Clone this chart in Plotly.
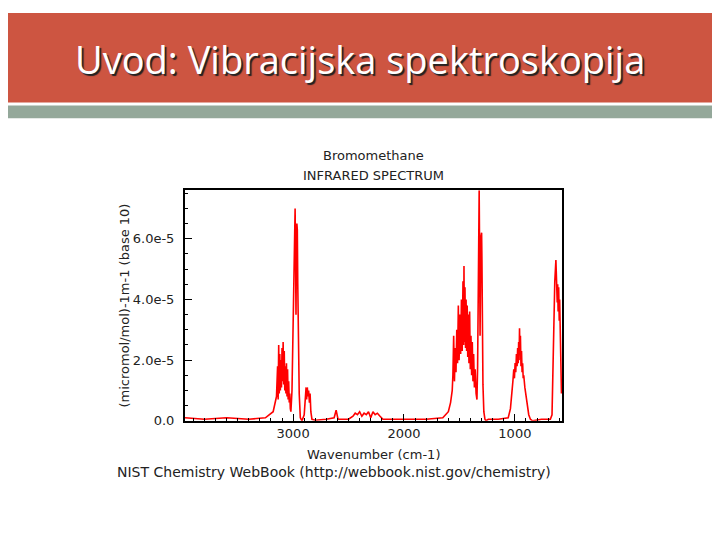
import plotly.graph_objects as go

# Bromomethane IR spectrum (absorbance in 1e-5 units)
wavenumber = [3975, 3800, 3600, 3400, 3250, 3180, 3150, 3140, 3135, 3130, 3125, 3120, 3115, 3110,
              3105, 3100, 3095, 3090, 3085, 3080, 3075, 3070, 3065, 3060, 3055, 3050, 3045, 3040,
              3035, 3030, 3025, 3020, 3010, 3000, 2995, 2990, 2985, 2982, 2978, 2974, 2970, 2966,
              2962, 2958, 2952, 2945, 2935, 2920, 2900, 2890, 2883, 2878, 2872, 2866, 2860, 2853,
              2847, 2840, 2830, 2800, 2700, 2630, 2612, 2595, 2500, 2460, 2440, 2420, 2400, 2380,
              2360, 2340, 2320, 2300, 2280, 2260, 2240, 2216, 2190, 2000, 1800, 1650, 1600, 1580,
              1565, 1559, 1552, 1545, 1538, 1531, 1524, 1517, 1510, 1503, 1496, 1489, 1482, 1475,
              1468, 1462, 1459, 1455, 1450, 1445, 1440, 1435, 1430, 1425, 1420, 1414, 1408, 1402,
              1396, 1390, 1384, 1378, 1372, 1365, 1358, 1350, 1342, 1336, 1330, 1326, 1322, 1318,
              1314, 1310, 1305, 1300, 1297, 1293, 1288, 1280, 1270, 1261, 1240, 1150, 1060, 1040,
              1025, 1018, 1010, 1004, 998, 992, 986, 980, 975, 970, 966, 962, 958, 954, 950, 945,
              940, 935, 930, 925, 920, 910, 900, 890, 875, 860, 840, 760, 680, 665, 658, 650, 640,
              630, 625, 622, 618, 614, 610, 605, 600, 596, 592, 588, 584, 580, 576]
absorbance = [0.1, 0.05, 0.1, 0.05, 0.1, 0.3, 0.8, 1.8, 0.7, 2.5, 0.9, 2.2, 1.0, 2.0,
              1.1, 2.4, 1.3, 2.6, 1.2, 2.3, 1.0, 1.8, 0.9, 1.9, 0.8, 1.7, 0.7, 1.3,
              0.6, 0.9, 0.4, 0.3, 1.0, 3.0, 5.0, 6.2, 6.9, 7.0, 5.5, 3.5, 5.8, 6.5,
              6.3, 4.5, 2.5, 0.9, 0.1, 0.0, 0.2, 0.8, 1.1, 0.7, 1.1, 0.8, 1.0, 0.6,
              0.9, 0.3, 0.05, 0.02, 0.05, 0.1, 0.35, 0.05, 0.05, 0.15, 0.25, 0.2, 0.3, 0.15,
              0.25, 0.2, 0.3, 0.1, 0.3, 0.2, 0.25, 0.15, 0.05, 0.05, 0.05, 0.1, 0.3, 0.6,
              1.0, 1.5, 2.8, 1.3, 2.4, 1.6, 3.0, 1.9, 3.8, 2.0, 3.5, 2.2, 4.0, 2.3,
              4.6, 2.5, 5.1, 2.6, 4.4, 2.4, 4.0, 2.3, 3.8, 2.1, 3.5, 1.9, 3.6, 1.7,
              2.8, 1.5, 2.6, 1.3, 2.2, 1.1, 1.7, 0.9, 0.7, 1.8, 4.5, 7.6, 7.6, 5.5,
              2.8, 4.5, 6.1, 6.2, 5.3, 3.0, 1.2, 0.3, 0.05, 0.0, 0.05, 0.05, 0.1, 0.4,
              0.9, 1.3, 1.7, 1.4, 1.9, 1.6, 2.2, 1.8, 2.4, 1.9, 2.6, 2.0, 3.05, 2.2, 2.8, 1.8,
              2.3, 1.6, 1.9, 1.4, 1.5, 1.1, 0.8, 0.5, 0.2, 0.05, 0.0, 0.05, 0.05, 0.2, 1.5,
              3.5, 4.6, 5.3, 4.2, 4.8, 3.9, 4.5, 3.6, 4.4, 3.3, 4.0, 2.8, 2.0, 1.3, 0.9]
absorbance = [a * 1e-5 for a in absorbance]

y_ticks = [0, 2e-5, 4e-5, 6e-5]
y_tick_labels = ["0.0", "2.0e-5", "4.0e-5", "6.0e-5"]
x_ticks = [3000, 2000, 1000]

# the page puts the figure 8px in from the top-left corner
def px(x):
    return (x - 8) / 720

def py(y):
    return 1 - (y - 8) / 540

fig = go.Figure(go.Scatter(x=wavenumber, y=absorbance, mode="lines",
                           line=dict(color="#ff0000", width=1.6), hoverinfo="skip"))

ax_font = dict(family="DejaVu Sans", size=13, color="#222")
txt_font = dict(family="DejaVu Sans", size=13, color="#222")

def label(text, x, y, **kw):
    return dict(text=text, x=px(x), y=py(y), xref="paper", yref="paper",
                xanchor="center", yanchor="middle", showarrow=False, **kw)

fig.update_layout(
    width=720, height=540, margin=dict(l=0, r=0, t=0, b=0),
    paper_bgcolor="white", plot_bgcolor="white", showlegend=False,
    xaxis=dict(domain=[px(185), px(562)], range=[3975, 575], tickvals=x_ticks,
               ticks="inside", ticklen=7, tickcolor="black", tickfont=ax_font,
               showline=True, linecolor="black", linewidth=2, mirror=True,
               showgrid=False, zeroline=False,
               minor=dict(dtick=100, ticks="inside", ticklen=3, tickcolor="black")),
    yaxis=dict(domain=[py(427), py(193)], range=[0, 7.6e-5],
               tickvals=y_ticks, ticktext=y_tick_labels, tickfont=ax_font,
               ticks="inside", ticklen=7, tickcolor="black", ticklabelstandoff=6,
               showline=True, linecolor="black", linewidth=2, mirror=True,
               showgrid=False, zeroline=False,
               minor=dict(dtick=0.5e-5, ticks="inside", ticklen=3, tickcolor="black")),
    shapes=[
        dict(type="rect", xref="paper", yref="paper", x0=-0.05, x1=1.05, y0=py(104), y1=py(13),
             fillcolor="#cd5541", line_width=0, layer="below"),
        dict(type="rect", xref="paper", yref="paper", x0=-0.05, x1=1.05, y0=py(120), y1=py(107),
             fillcolor="#94a89a", line_width=0, layer="below"),
    ],
    annotations=[
        label("Uvod: Vibracijska spektroskopija", 360, 60,
              font=dict(family="Open Sans", size=38, color="white", shadow="2px 2px 1px #222")),
        label("Bromomethane", 373, 158, font=txt_font),
        label("INFRARED SPECTRUM", 373, 178, font=txt_font),
        label("Wavenumber (cm-1)", 373, 461, font=txt_font),
        label("NIST Chemistry WebBook (http://webbook.nist.gov/chemistry)", 334, 479,
              font=dict(family="DejaVu Sans", size=14, color="#222")),
        label("(micromol/mol)-1m-1 (base 10)", 125, 310, textangle=-90, font=txt_font),
    ],
)

fig.write_html("out.html")
